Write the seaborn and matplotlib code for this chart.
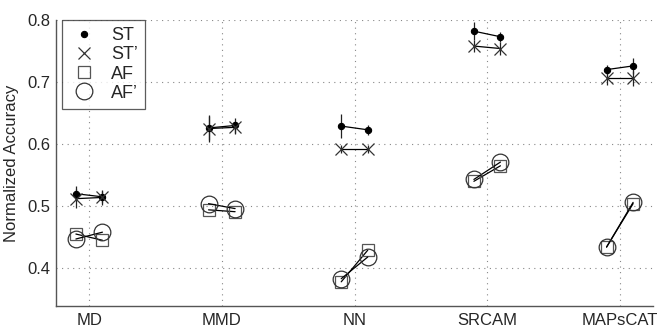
import matplotlib
matplotlib.use("Agg")
import matplotlib.pyplot as plt
import seaborn as sns
import numpy as np
import pandas as pd

categories = ["MD", "MMD", "NN", "SRCAM", "MAPsCAT"]
# values at left / right point of each category
st_left = [0.520, 0.626, 0.629, 0.782, 0.720]
st_right = [0.515, 0.630, 0.623, 0.773, 0.726]
stp_left = [0.512, 0.625, 0.592, 0.758, 0.706]
stp_right = [0.514, 0.627, 0.592, 0.754, 0.706]
af_left = [0.455, 0.494, 0.378, 0.540, 0.434]
af_right = [0.445, 0.491, 0.429, 0.565, 0.504]
afp_left = [0.447, 0.504, 0.383, 0.543, 0.434]
afp_right = [0.458, 0.496, 0.418, 0.571, 0.506]
st_err_left = [0.012, 0.020, 0.020, 0.014, 0.008]
st_err_right = [0.010, 0.012, 0.008, 0.008, 0.013]
stp_err_left = [0.015, 0.022, 0.006, 0.010, 0.010]
stp_err_right = [0.012, 0.010, 0.006, 0.010, 0.012]
yticks = [0.4, 0.5, 0.6, 0.7, 0.8]
series_names = ["ST", "ST\u2019", "AF", "AF\u2019"]

sns.set_style("white")
plt.rcParams['font.family'] = ['Liberation Sans', 'DejaVu Sans']

fig = plt.figure(figsize=(6.64, 3.30), dpi=100)
ax = fig.add_axes([56/664, 24/330, (653-56)/664, (306-20)/330])

xpos = np.arange(1, len(categories) + 1)
off = 0.1

styles = [
    dict(marker='o', ms=4.5, mfc='black', mec='black', mew=0.8),
    dict(marker='x', ms=9, mfc='none', mec='#333333', mew=0.9),
    dict(marker='s', ms=9, mfc='none', mec='#555555', mew=0.9),
    dict(marker='o', ms=12, mfc='none', mec='#333333', mew=0.9),
]
data = [(st_left, st_right, st_err_left, st_err_right),
        (stp_left, stp_right, stp_err_left, stp_err_right),
        (af_left, af_right, None, None),
        (afp_left, afp_right, None, None)]

for si, (L, R, eL, eR) in enumerate(data):
    rows = []
    for ci, x in enumerate(xpos):
        rows.append(dict(x=x - off, y=L[ci], cat=categories[ci]))
        rows.append(dict(x=x + off, y=R[ci], cat=categories[ci]))
    df = pd.DataFrame(rows)
    for cat, g in df.groupby("cat", sort=False):
        ax.plot(g["x"], g["y"], color='black', lw=0.9, zorder=3, **styles[si])
    if eL is not None:
        ax.errorbar(xpos - off, L, yerr=eL, fmt='none', ecolor='#222222', elinewidth=0.9, capsize=0, zorder=2)
        ax.errorbar(xpos + off, R, yerr=eR, fmt='none', ecolor='#222222', elinewidth=0.9, capsize=0, zorder=2)

# legend handles
handles = [plt.Line2D([], [], ls='none', **styles[i]) for i in range(4)]
leg = fig.legend(handles, series_names, loc='upper left', bbox_to_anchor=(62/664, 1 - 20/330),
                 frameon=True, fancybox=False, edgecolor='#333333', fontsize=13,
                 handlelength=1.6, handletextpad=0.7, borderpad=0.4, labelspacing=0.12,
                 borderaxespad=0)
leg.get_frame().set_linewidth(0.9)

ax.set_xlim(0.75, 5.25)
ax.set_ylim(0.339, 0.8)
ax.set_xticks(xpos)
ax.set_xticklabels(categories)
ax.set_yticks(yticks)
ax.set_yticklabels([f"{v:.1f}" for v in yticks])
ax.set_ylabel("Normalized Accuracy", fontsize=12, labelpad=6)
ax.tick_params(axis='both', direction='in', length=5, width=0.8, color='#444444', labelsize=12)
ax.tick_params(axis='x', pad=5)
ax.tick_params(axis='y', pad=4)
ax.grid(True, ls=(0, (1, 4)), color='#888888', lw=0.8)
for s in ['top', 'right']:
    ax.spines[s].set_visible(False)
for s in ['left', 'bottom']:
    ax.spines[s].set_color('#555555')
    ax.spines[s].set_linewidth(1.0)

fig.savefig("out.png", dpi=100)
